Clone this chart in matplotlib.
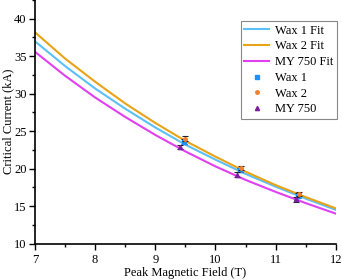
import matplotlib
matplotlib.use("Agg")
import matplotlib.pyplot as plt
from matplotlib.ticker import MultipleLocator

plt.rcParams['font.family'] = ['Liberation Serif', 'DejaVu Serif']
plt.rcParams['font.size'] = 9

# fit curves
field_fit = [7.0, 7.5, 8.0, 8.5, 9.0, 9.5, 10.0, 10.5, 11.0, 11.5, 12.0]
wax1_fit = [37.0, 33.7, 30.7, 28.0, 25.5, 23.2, 21.2, 19.3, 17.6, 16.0, 14.5]
wax2_fit = [38.2, 34.7, 31.6, 28.7, 26.1, 23.7, 21.6, 19.6, 17.8, 16.2, 14.7]
my750_fit = [35.6, 32.4, 29.5, 26.9, 24.5, 22.3, 20.3, 18.5, 16.9, 15.4, 14.0]

# measured points
wax1_B = [9.47, 10.41, 11.37]
wax1_I = [23.6, 19.8, 16.4]
wax2_B = [9.49, 10.42, 11.39]
wax2_I = [24.0, 20.1, 16.6]
my750_B = [9.41, 10.35, 11.33]
my750_I = [22.9, 19.2, 15.9]
err = 0.3

fig = plt.figure(figsize=(3.42, 2.8), dpi=100)
ax = fig.add_axes([0.102, 0.13, 0.88, 0.87])

ax.plot(field_fit, wax1_fit, color='#5BC0F8', lw=1.5, label='Wax 1 Fit')
ax.plot(field_fit, wax2_fit, color='#E8A317', lw=1.5, label='Wax 2 Fit')
ax.plot(field_fit, my750_fit, color='#E040F0', lw=1.5, label='MY 750 Fit')

points = [(wax1_B, wax1_I, 's', 2.5, '#1E90FF', 'Wax 1'),
          (wax2_B, wax2_I, 'o', 2.5, '#F08030', 'Wax 2'),
          (my750_B, my750_I, '^', 3, '#7B1FA2', 'MY 750')]
for B, I, m, ms, c, lab in points:
    ax.errorbar(B, I, yerr=err, fmt='none', ecolor='#222222',
                elinewidth=0.8, capsize=2, capthick=0.8)
    ax.plot(B, I, m, ms=ms, color=c, ls='none', label=lab)

ax.set_xlim(7, 12)
ax.set_ylim(10, 42.5)
ax.xaxis.set_major_locator(MultipleLocator(1))
ax.xaxis.set_minor_locator(MultipleLocator(0.5))
ax.yaxis.set_major_locator(MultipleLocator(5))
ax.yaxis.set_minor_locator(MultipleLocator(2.5))
ax.tick_params(which='both', direction='out', width=1)
ax.tick_params(which='major', length=4)
ax.tick_params(which='minor', length=2)
ax.tick_params(axis='y', which='major', pad=2)
ax.spines['top'].set_visible(False)
ax.spines['right'].set_visible(False)
ax.spines['left'].set_linewidth(1.2)
ax.spines['bottom'].set_linewidth(1.2)

ax.set_xlabel('Peak Magnetic Field (T)', labelpad=1)
ax.set_ylabel('Critical Current (kA)', va='center')
ax.yaxis.set_label_coords(-0.088, 0.5)

leg = ax.legend(loc='upper right', bbox_to_anchor=(1.004, 0.914), fancybox=False,
                edgecolor='#888888', framealpha=1, handlelength=2.0,
                borderpad=0.3, labelspacing=0.3, handletextpad=0.45,
                borderaxespad=0.0)
leg.get_frame().set_linewidth(0.8)

fig.savefig('out.png', dpi=100)
